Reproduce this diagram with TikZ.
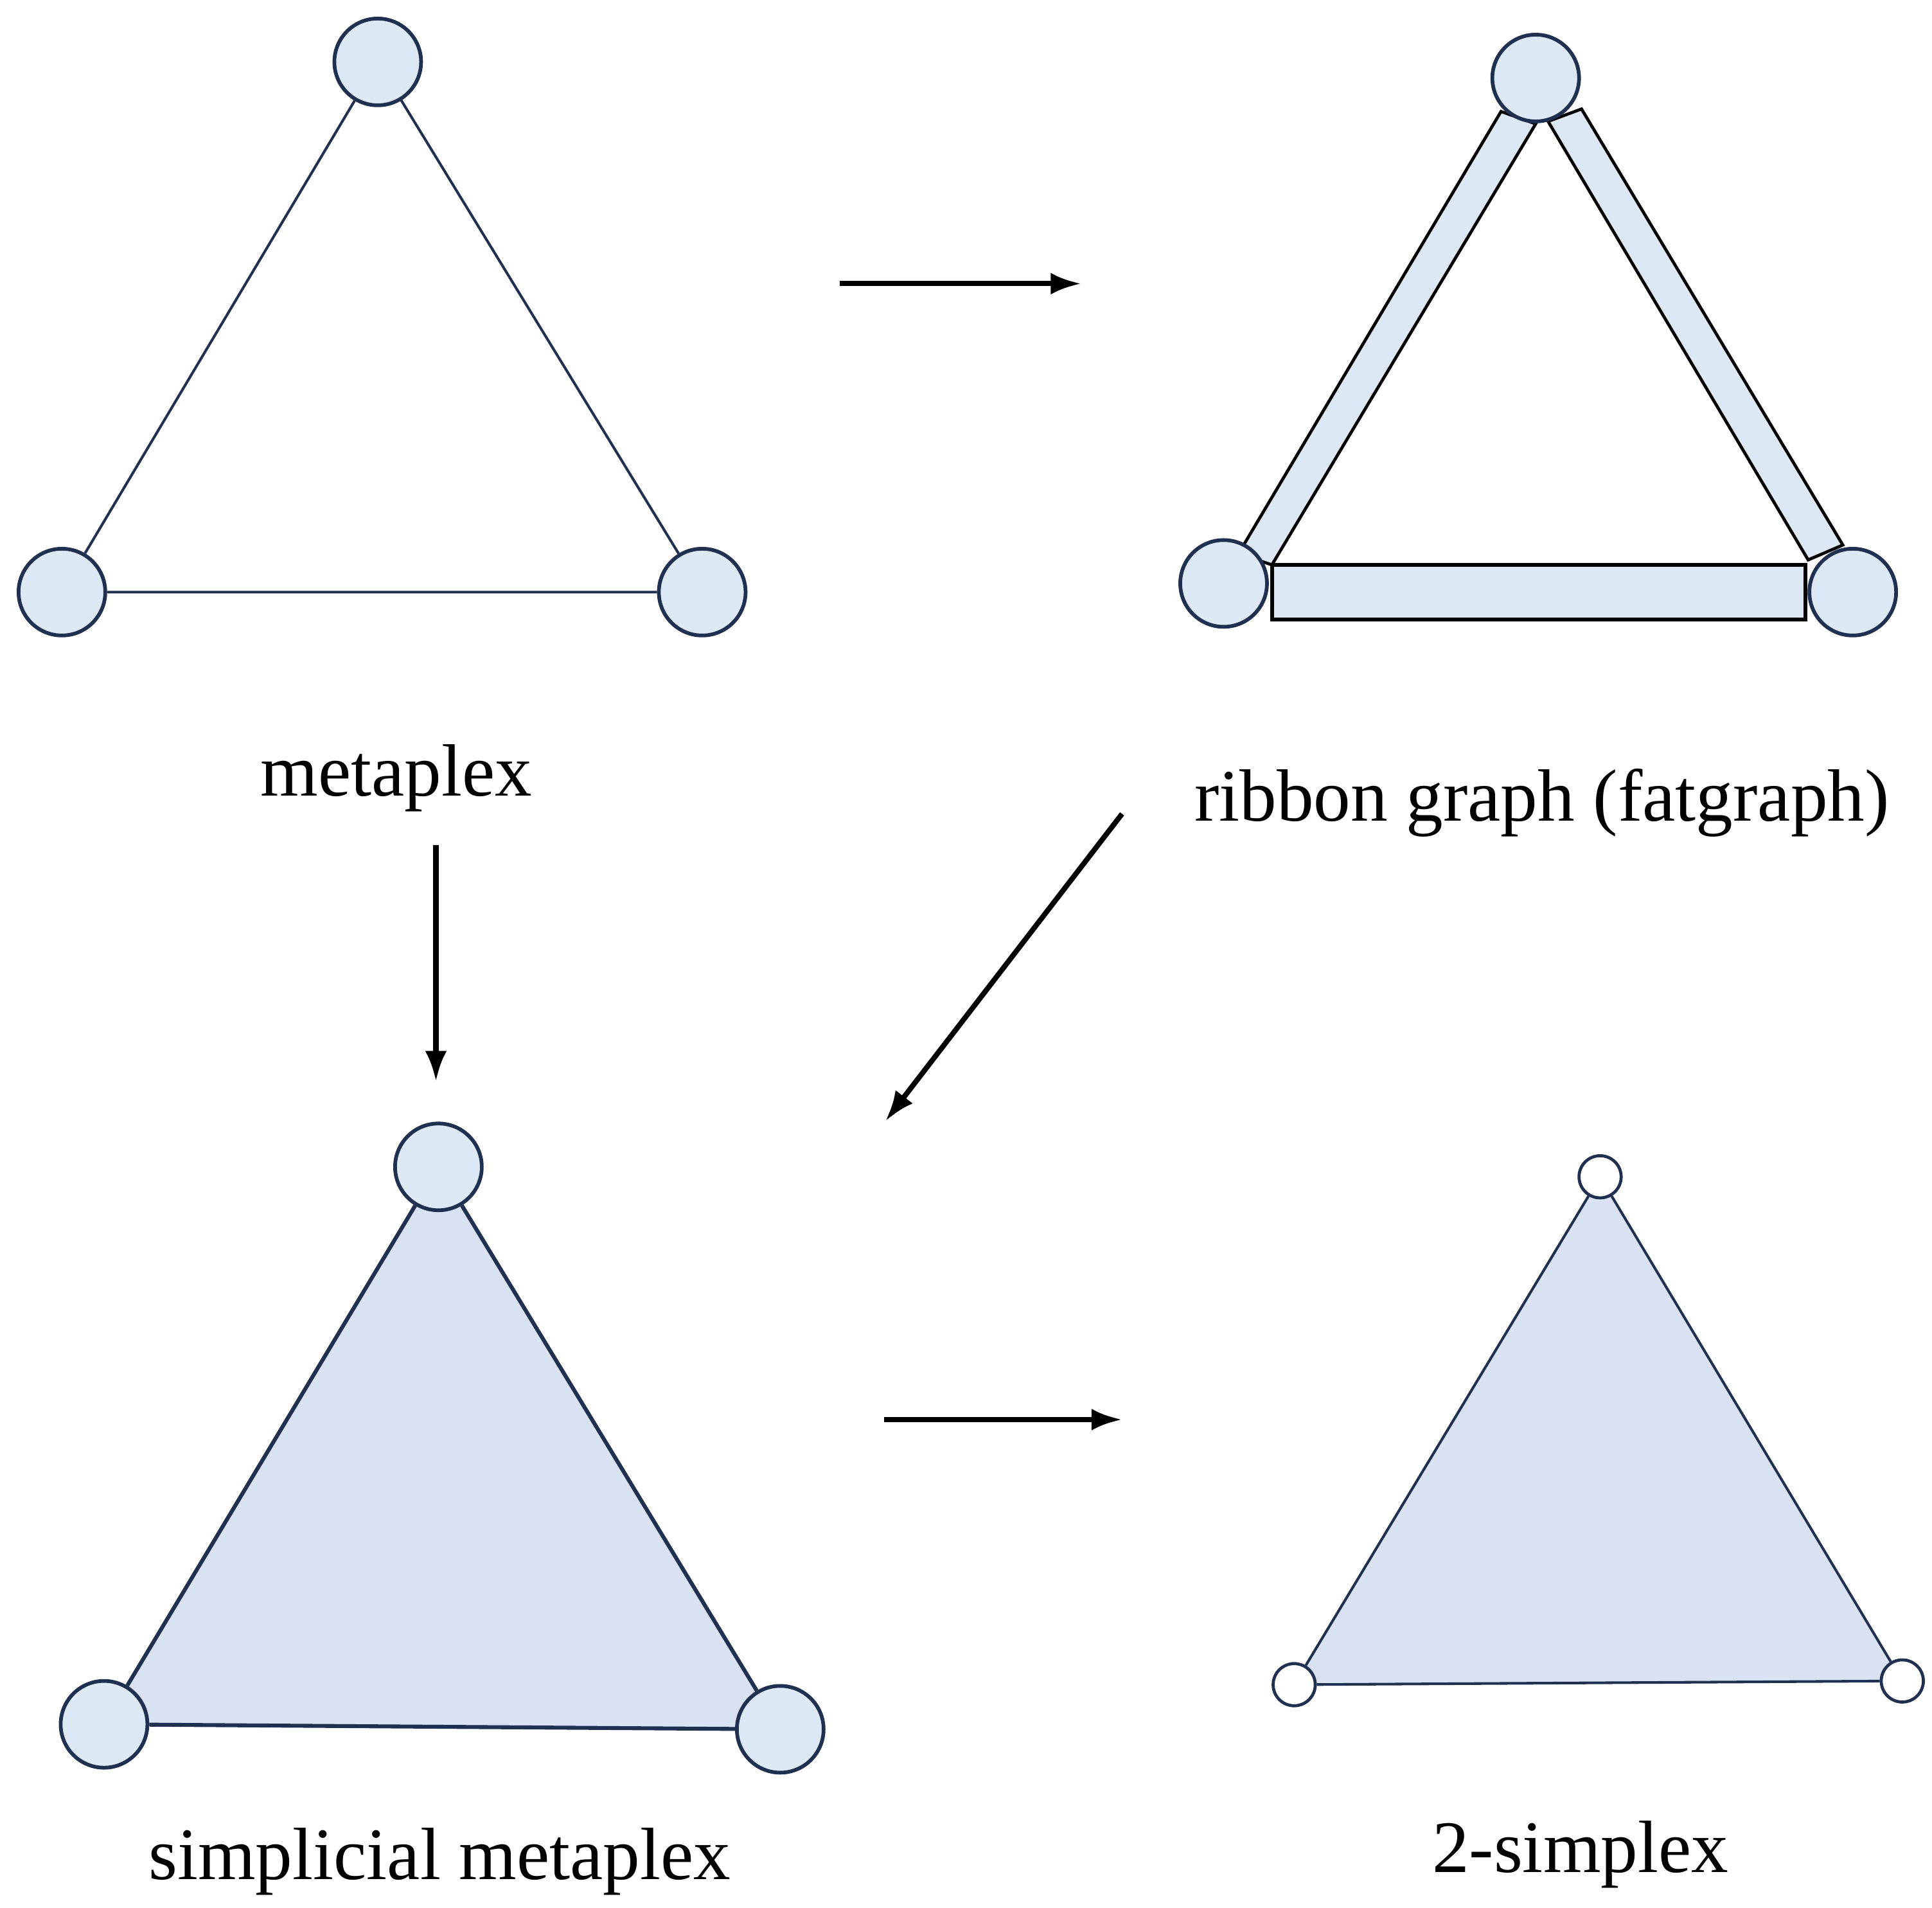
\documentclass[tikz,border=0pt]{standalone}
\usepackage{fontspec}
\setmainfont{Liberation Serif}
\usetikzlibrary{arrows.meta}
\definecolor{vfill}{HTML}{DDE8F5}
\definecolor{navy}{HTML}{1F3050}
\definecolor{tfill}{HTML}{D9E2F2}
\begin{document}
\begin{tikzpicture}[x=0.01cm,y=-0.01cm,
  vtx/.style={circle,draw=navy,fill=vfill,line width=0.85pt,minimum size=0.7cm,inner sep=0},
  svtx/.style={circle,draw=navy,fill=white,line width=0.7pt,minimum size=0.34cm,inner sep=0},
  edge/.style={draw=navy,line width=0.6pt},
  arr/.style={line width=1.2pt,-{Latex[length=7pt,width=5pt]}},
  lbl/.style={font=\fontsize{17}{20}\selectfont}]
\useasboundingbox (0,0) rectangle (1560,1540);
% metaplex
\node[vtx] (a1) at (305,50) {};
\node[vtx] (a2) at (50,478) {};
\node[vtx] (a3) at (567,478) {};
\draw[edge] (a1)--(a2) (a2)--(a3) (a3)--(a1);
\node[lbl] (l1) at (320,628) {metaplex};
% ribbon
\draw[black,fill=vfill,line width=0.7pt] (1000,447)--(1212,90)--(1240,100)--(1027,456)--cycle;
\draw[black,fill=vfill,line width=0.7pt] (1250,98)--(1277,88)--(1488,440)--(1460,452)--cycle;
\draw[black,fill=vfill,line width=0.9pt] (1027,456) rectangle (1458,500);
\node[vtx] (b1) at (1240,63) {};
\node[vtx] (b2) at (988,471) {};
\node[vtx] (b3) at (1496,478) {};
\node[lbl] (l2) at (1245,648) {ribbon graph (fatgraph)};
% simplicial metaplex
\fill[tfill] (354,942)--(84,1392)--(630,1396)--cycle;
\node[vtx] (c1) at (354,942) {};
\node[vtx] (c2) at (84,1392) {};
\node[vtx] (c3) at (630,1396) {};
\draw[navy,line width=0.9pt] (c1)--(c2) (c2)--(c3) (c3)--(c1);
\node[lbl] (l3) at (355,1503) {simplicial metaplex};
% 2-simplex
\fill[tfill] (1292,950)--(1045,1360)--(1536,1357)--cycle;
\node[svtx] (d1) at (1292,950) {};
\node[svtx] (d2) at (1045,1360) {};
\node[svtx] (d3) at (1536,1357) {};
\draw[edge] (d1)--(d2) (d2)--(d3) (d3)--(d1);
\node[lbl] (l4) at (1276,1497) {2-simplex};
% arrows
\coordinate (p1) at (678,229); \coordinate (q1) at (873,229);
\coordinate (p2) at (352,682); \coordinate (q2) at (352,873);
\coordinate (p3) at (906,657); \coordinate (q3) at (715,905);
\coordinate (p4) at (714,1146); \coordinate (q4) at (906,1146);
\draw[arr] (p1)--(q1);
\draw[arr] (p2)--(q2);
\draw[arr] (p3)--(q3);
\draw[arr] (p4)--(q4);
\end{tikzpicture}
\end{document}
